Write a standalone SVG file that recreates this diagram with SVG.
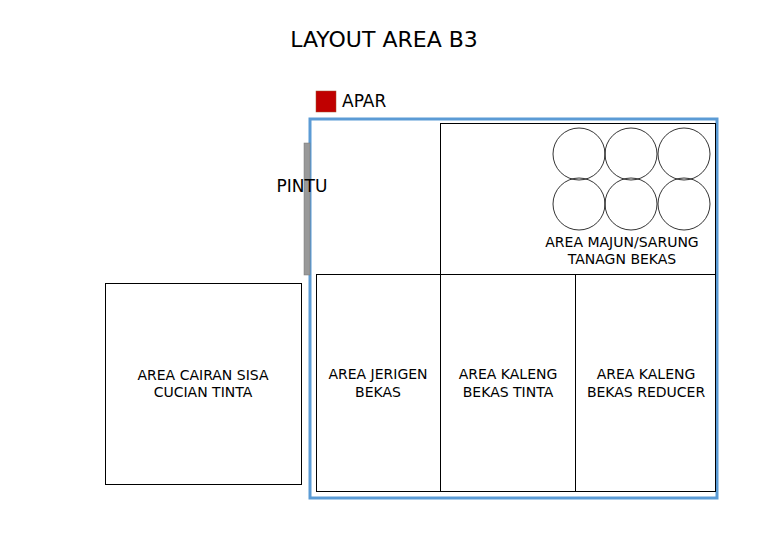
<svg xmlns="http://www.w3.org/2000/svg" width="768" height="543" viewBox="0 0 768 543">
<style>
text{font-family:"DejaVu Sans",sans-serif;fill:#000;text-anchor:middle}
.t{font-size:14px}
.b{fill:none;stroke:#000;stroke-width:1}
.c{fill:none;stroke:#000;stroke-width:0.8}
</style>
<rect width="768" height="543" fill="#fff"/>
<text x="384" y="47" font-size="22">LAYOUT AREA B3</text>
<g id="apar"><rect x="316" y="91" width="20" height="21" fill="#c00000" stroke="#a0522d" stroke-width="0.5"/><text x="342" y="107" font-size="17" style="text-anchor:start">APAR</text></g>
<g id="area-b3"><rect x="310" y="119" width="407" height="379" fill="none" stroke="#5b9bd5" stroke-width="3"/></g>
<g id="area-majun"><rect x="440.5" y="123.5" width="275" height="151" class="b"/>
<circle cx="579" cy="154" r="26" class="c"/><circle cx="631" cy="154" r="26" class="c"/><circle cx="684" cy="154" r="26" class="c"/>
<circle cx="579" cy="204" r="26" class="c"/><circle cx="631" cy="204" r="26" class="c"/><circle cx="684" cy="204" r="26" class="c"/>
<text x="622" y="247" class="t">AREA MAJUN/SARUNG</text><text x="622" y="264" class="t">TANAGN BEKAS</text></g>
<g id="area-jerigen"><rect x="316.5" y="274.5" width="124" height="217" class="b"/><text x="378" y="379" class="t">AREA JERIGEN</text><text x="378" y="397" class="t">BEKAS</text></g>
<g id="area-tinta"><rect x="440.5" y="274.5" width="135" height="217" class="b"/><text x="508" y="379" class="t">AREA KALENG</text><text x="508" y="397" class="t">BEKAS TINTA</text></g>
<g id="area-reducer"><rect x="575.5" y="274.5" width="140" height="217" class="b"/><text x="646" y="379" class="t">AREA KALENG</text><text x="646" y="397" class="t">BEKAS REDUCER</text></g>
<g id="pintu"><rect x="304" y="143" width="6" height="132" fill="#999" stroke="#777" stroke-width="0.5"/><text x="302" y="192" font-size="17">PINTU</text></g>
<g id="area-cairan"><rect x="105.5" y="283.5" width="196" height="201" class="b"/><text x="203" y="380" class="t">AREA CAIRAN SISA</text><text x="203" y="397" class="t">CUCIAN TINTA</text></g>
<g id="connectors"/>
</svg>
